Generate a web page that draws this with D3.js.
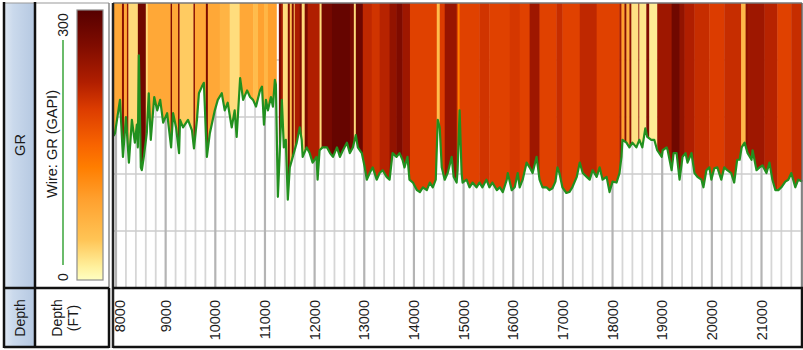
<!DOCTYPE html>
<html>
<head>
<meta charset="utf-8">
<script src="https://cdn.jsdelivr.net/npm/d3@7"></script>
<style>
  html, body { margin: 0; padding: 0; background: #fff; }
  svg { display: block; font-family: "Liberation Sans", Arial, sans-serif; }
</style>
</head>
<body>
<svg id="chart" width="803" height="350"></svg>
<script>
/**
 * Data: GR wireline curve (depth in FT, GR in GAPI).
 */
const curveDepth = [
    7950, 7980, 8080, 8140, 8200, 8260, 8320, 8380, 8420, 8440, 8460,
    8500, 8520, 8560, 8620, 8660, 8700, 8770, 8830, 8890, 8950,
    9030, 9110, 9150, 9210, 9270, 9290, 9350, 9450, 9530, 9570,
    9630, 9670, 9730, 9770, 9830, 9890, 9990, 10050, 10130, 10190,
    10250, 10330, 10390, 10430, 10500, 10560, 10640, 10700, 10760, 10820,
    10900, 10940, 10980, 11020, 11060, 11120, 11160, 11200, 11220, 11260,
    11300, 11340, 11380, 11420, 11460, 11500, 11560, 11640, 11700, 11740,
    11760, 11840, 11900, 11960, 12040, 12060, 12100, 12160, 12250, 12310,
    12370, 12450, 12510, 12570, 12650, 12710, 12770, 12830, 12870, 12950,
    13010, 13050, 13110, 13170, 13250, 13310, 13370, 13450, 13510, 13570,
    13650, 13710, 13770, 13810, 13870, 13910, 13980, 14060, 14120, 14180,
    14260, 14320, 14380, 14440, 14480, 14520, 14560, 14620, 14680, 14760,
    14800, 14860, 14880, 14920, 14960, 14980, 15060, 15120, 15180, 15260,
    15320, 15380, 15460, 15520, 15580, 15670, 15730, 15790, 15870, 15890,
    15970, 16030, 16090, 16130, 16190, 16270, 16330, 16390, 16470, 16530,
    16590, 16670, 16730, 16790, 16850, 16890, 16930, 16990, 17070, 17130,
    17190, 17280, 17340, 17400, 17480, 17540, 17600, 17680, 17740, 17800,
    17880, 17940, 18000, 18080, 18140, 18180, 18200, 18280, 18340, 18400,
    18480, 18540, 18600, 18660, 18700, 18780, 18840, 18900, 18990, 19010,
    19090, 19110, 19190, 19230, 19290, 19350, 19410, 19470, 19510, 19590,
    19650, 19710, 19790, 19830, 19890, 19950, 19990, 20050, 20110, 20190,
    20250, 20310, 20390, 20450, 20510, 20560, 20600, 20660, 20720, 20800,
    20820, 20900, 20960, 21020, 21100, 21160, 21220, 21280, 21340, 21400,
    21480, 21540, 21600, 21680, 21740, 21820
];
const curveGR = [
    160, 163, 198, 138, 180, 132, 177, 153, 172, 148, 245,
    127, 124, 138, 163, 205, 156, 201, 187, 198, 174,
    184, 148, 184, 169, 142, 177, 169, 177, 166, 147,
    177, 205, 212, 216, 138, 163, 187, 198, 205, 187,
    195, 169, 187, 159, 221, 198, 208, 201, 198, 191,
    208, 212, 172, 198, 187, 201, 191, 219, 214, 96,
    145, 198, 148, 156, 93, 127, 138, 153, 169, 156,
    138, 148, 142, 132, 138, 114, 145, 148, 148, 142,
    138, 148, 138, 145, 153, 142, 148, 161, 148, 142,
    127, 114, 121, 127, 114, 121, 124, 117, 114, 142,
    138, 142, 135, 127, 138, 114, 111, 103, 101, 106,
    103, 111, 106, 114, 177, 169, 127, 114, 121, 138,
    117, 111, 124, 187, 121, 111, 114, 106, 111, 106,
    111, 106, 114, 106, 111, 103, 106, 101, 114, 121,
    103, 106, 121, 106, 114, 132, 127, 121, 138, 114,
    106, 106, 103, 105, 112, 127, 121, 106, 100, 101,
    106, 117, 132, 121, 117, 114, 124, 117, 127, 114,
    117, 101, 112, 111, 121, 138, 156, 153, 148, 153,
    148, 156, 148, 168, 159, 156, 156, 145, 138, 145,
    148, 145, 124, 142, 142, 114, 138, 142, 132, 142,
    121, 117, 114, 106, 124, 127, 114, 126, 127, 114,
    127, 124, 121, 111, 135, 135, 148, 153, 142, 135,
    145, 124, 127, 129, 121, 132, 114, 103, 103, 106,
    112, 114, 121, 106, 114, 112
];

/**
 * Data: colour fill bands (start depth of each band, colour value on the 0-300 scale).
 * The last depth closes the last band. null = no fill.
 */
const bandDepth = [
    7940, 8120, 8160, 8220, 8250, 8440, 8600, 8640, 9100, 9130,
    9250, 9280, 9560, 9590, 9810, 9850, 10090, 10290, 10490, 10760,
    10860, 10980, 11060, 11230, 11280, 11320, 11360, 11460, 11500, 11540,
    11580, 11600, 11700, 11740, 11800, 11860, 12100, 12140, 12350, 12710,
    12790, 12830, 12970, 13150, 13310, 13510, 13650, 13770, 13920, 14460,
    14520, 14620, 14860, 14880, 14920, 15320, 15520, 15930, 16130, 16330,
    16530, 16870, 16990, 17340, 17680, 18140, 18180, 18240, 18280, 18340,
    18380, 18520, 18540, 18680, 18740, 18900, 19190, 19350, 19450, 19650,
    19950, 20250, 20590, 20680, 20720, 21060, 21320, 21600, 21830
];
const bandValue = [
    80, 250, 80, 240, 30, 275, 30, 80, 260, 80,
    260, 40, 250, 80, 265, 80, 65, 28, 80, 55,
    88, 62, 90, null, 265, 230, 28, 260, 50, 255,
    40, 225, 260, 30, 265, 220, 30, 270, 285, 270,
    30, 278, 210, 198, 215, 245, 262, 235, 185, 55,
    190, 240, 200, 125, 185, 198, 185, 195, 185, 235,
    185, 205, 185, 210, 185, 230, 90, 255, 70, 250,
    25, 250, 22, 260, 18, 235, 275, 245, 220, 205,
    190, 205, 60, 250, 235, 215, 185, 205
];

/**
 * Data: axes and legend.
 */
const depthTicks = [8000, 9000, 10000, 11000, 12000, 13000, 14000, 15000, 16000, 17000, 18000, 19000, 20000, 21000];
const grGrid = [60, 120, 180, 240];
const legendStops = [0, 15, 45, 90, 125, 150, 190, 220, 260, 300];
const legendColors = ['#ffffc2', '#fff09c', '#ffc455', '#ffa02e', '#ff7e00', '#f86400', '#dc3c00', '#b01e00', '#800c00', '#560000'];

/**
 * Layout.
 */
const plot = { left: 113, right: 802, top: 3, bottom: 288 };
const axisRowBottom = 347;
const panel = { left: 4, split: 35, right: 109 };

const svg = d3.select('#chart');
const defs = svg.append('defs');

/**
 * Scales.
 */
const xScale = d3.scaleLinear().domain([8000, 21000]).range([116, 761.5]);
const yScale = d3.scaleLinear().domain([0, 300]).range([plot.bottom, plot.top]);
const colorScale = d3.scaleLinear().domain(legendStops).range(legendColors).clamp(true);

/**
 * Gradients.
 */
const headerGrad = defs.append('linearGradient').attr('id', 'header-grad');
headerGrad.append('stop').attr('offset', 0).attr('stop-color', '#dfe8f3');
headerGrad.append('stop').attr('offset', 0.3).attr('stop-color', '#cad9ec');
headerGrad.append('stop').attr('offset', 1).attr('stop-color', '#b5c8e1');

const barGrad = defs.append('linearGradient').attr('id', 'bar-grad')
    .attr('x1', 0).attr('y1', 1).attr('x2', 0).attr('y2', 0);
barGrad.selectAll('stop')
    .data(legendStops)
    .join('stop')
        .attr('offset', d => d / 300)
        .attr('stop-color', d => colorScale(d));

/**
 * Grid.
 */
const gridG = svg.append('g').attr('class', 'grid');
const minorDepths = d3.range(8200, 21801, 200).filter(d => d % 1000 !== 0);
gridG.selectAll('line.minor')
    .data(minorDepths)
    .join('line')
        .attr('class', 'minor')
        .attr('x1', d => xScale(d)).attr('x2', d => xScale(d))
        .attr('y1', plot.top).attr('y2', plot.bottom)
        .attr('stroke', '#d6d6d6')
        .attr('stroke-width', 1.8);
gridG.selectAll('line.hgrid')
    .data(grGrid)
    .join('line')
        .attr('class', 'hgrid')
        .attr('x1', plot.left).attr('x2', plot.right)
        .attr('y1', d => yScale(d)).attr('y2', d => yScale(d))
        .attr('stroke', '#cdcdcd')
        .attr('stroke-width', 1.5);
gridG.selectAll('line.major')
    .data(depthTicks)
    .join('line')
        .attr('class', 'major')
        .attr('x1', d => xScale(d)).attr('x2', d => xScale(d))
        .attr('y1', plot.top).attr('y2', plot.bottom)
        .attr('stroke', '#b4b4b4')
        .attr('stroke-width', 2.2);

/**
 * Colour fill between the top of the track and the curve.
 */
const samples = curveDepth.map((d, i) => ({ depth: d, gr: curveGR[i] }));
const area = d3.area()
    .x(d => xScale(d.depth))
    .y0(plot.top)
    .y1(d => yScale(d.gr));
defs.append('clipPath').attr('id', 'fill-clip')
    .append('path').attr('d', area(samples));

const bands = bandValue
    .map((v, i) => ({ from: bandDepth[i], to: bandDepth[i + 1], value: v }))
    .filter(b => b.value !== null);

svg.append('g')
    .attr('clip-path', 'url(#fill-clip)')
    .selectAll('rect')
    .data(bands)
    .join('rect')
        .attr('x', d => Math.max(plot.left, xScale(d.from)))
        .attr('y', plot.top)
        .attr('width', d => Math.min(plot.right, xScale(d.to)) - Math.max(plot.left, xScale(d.from)) + 0.4)
        .attr('height', plot.bottom - plot.top)
        .attr('fill', d => colorScale(d.value));

/**
 * GR curve.
 */
const line = d3.line()
    .x(d => xScale(d.depth))
    .y(d => yScale(d.gr));
svg.append('path')
    .datum(samples)
    .attr('d', line)
    .attr('fill', 'none')
    .attr('stroke', '#22901f')
    .attr('stroke-width', 2.2)
    .attr('stroke-linejoin', 'round');

/**
 * Track frame.
 */
svg.append('line')
    .attr('x1', plot.left).attr('x2', plot.right)
    .attr('y1', plot.top).attr('y2', plot.top)
    .attr('stroke', '#777').attr('stroke-width', 1.5);
svg.append('line')
    .attr('x1', plot.right).attr('x2', plot.right)
    .attr('y1', plot.top).attr('y2', plot.bottom)
    .attr('stroke', '#666').attr('stroke-width', 1.5);
svg.append('line')
    .attr('x1', plot.left).attr('x2', plot.left)
    .attr('y1', plot.top).attr('y2', axisRowBottom + 1)
    .attr('stroke', '#222').attr('stroke-width', 2.5);

/**
 * Depth axis row.
 */
const axisG = svg.append('g').attr('class', 'depth-axis');
[[plot.left, plot.bottom, 803, plot.bottom],
 [plot.left, axisRowBottom, 803, axisRowBottom],
 [plot.right, plot.bottom, plot.right, axisRowBottom + 1]].forEach(([x1, y1, x2, y2]) => {
    axisG.append('line')
        .attr('x1', x1).attr('y1', y1).attr('x2', x2).attr('y2', y2)
        .attr('stroke', '#111').attr('stroke-width', 2.5);
});
axisG.selectAll('text')
    .data(depthTicks)
    .join('text')
        .attr('transform', d => `translate(${Math.max(plot.left + 7, xScale(d))},300) rotate(-90)`)
        .attr('text-anchor', 'end')
        .attr('dominant-baseline', 'central')
        .attr('font-size', '14.5px')
        .attr('fill', '#1a1a1a')
        .text(d => d);

/**
 * Left panel: track header and legend.
 */
const panelG = svg.append('g').attr('class', 'panel');
panelG.append('rect')
    .attr('x', panel.left).attr('y', plot.top)
    .attr('width', panel.split - panel.left).attr('height', axisRowBottom - plot.top)
    .attr('fill', 'url(#header-grad)');

// colour bar
panelG.append('rect')
    .attr('x', 77).attr('y', 10)
    .attr('width', 26).attr('height', 270)
    .attr('fill', 'url(#bar-grad)')
    .attr('stroke', '#8c8c8c')
    .attr('stroke-width', 1.2);

// curve sample
panelG.append('line')
    .attr('x1', 63).attr('x2', 63)
    .attr('y1', 40).attr('y2', 265)
    .attr('stroke', '#3aa53a').attr('stroke-width', 1.5);

const vText = (x, y, str, size) => panelG.append('text')
    .attr('transform', `translate(${x},${y}) rotate(-90)`)
    .attr('text-anchor', 'middle')
    .attr('dominant-baseline', 'central')
    .attr('font-size', size)
    .attr('fill', '#1a1a1a')
    .text(str);

vText(20, 145, 'GR', '14.5px');
vText(20, 318, 'Depth', '14px');
vText(52, 144, 'Wire: GR (GAPI)', '14.5px');
vText(63, 25, '300', '14px');
vText(63, 277, '0', '14px');
vText(57, 318, 'Depth', '14px');
vText(73, 318, '(FT)', '14px');

// panel borders
[[panel.left, plot.top, panel.right, plot.top, '#999', 1.2],
 [panel.right, plot.top, panel.right, plot.bottom, '#888', 1.5],
 [panel.left, plot.top - 1, panel.left, axisRowBottom + 1, '#111', 2.5],
 [panel.split, plot.top - 1, panel.split, axisRowBottom + 1, '#111', 2.5],
 [panel.left, plot.bottom, panel.right, plot.bottom, '#111', 2.5],
 [panel.left, axisRowBottom, panel.right, axisRowBottom, '#111', 2.5],
 [panel.right, plot.bottom, panel.right, axisRowBottom + 1, '#111', 2.5]].forEach(([x1, y1, x2, y2, c, w]) => {
    panelG.append('line')
        .attr('x1', x1).attr('y1', y1).attr('x2', x2).attr('y2', y2)
        .attr('stroke', c).attr('stroke-width', w);
});
</script>
</body>
</html>
